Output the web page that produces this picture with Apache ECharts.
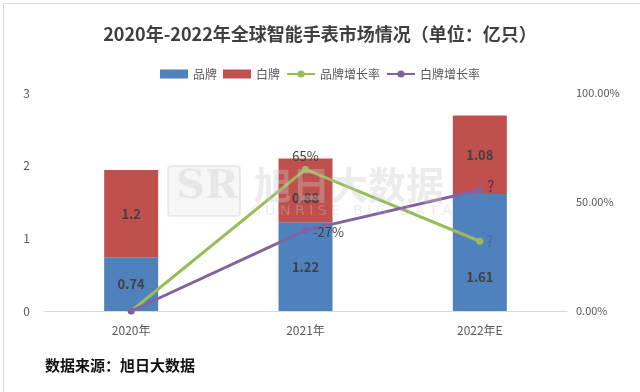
<!DOCTYPE html>
<html><head><meta charset="utf-8">
<script src="https://cdn.jsdelivr.net/npm/echarts@6/dist/echarts.min.js"></script>
<style>html,body{margin:0;padding:0;background:#fff}#c{width:640px;height:392px}</style>
</head><body><div id="c"></div>
<script>
const categories = ['2020年', '2021年', '2022年E'];
const brand = [0.74, 1.22, 1.61];
const whiteLabel = [1.2, 0.88, 1.08];
const brandGrowth = [0, 0.65, 0.32];
const whiteGrowth = [0, 0.37, 0.555];
const brandGrowthLabels = ['', '65%', '?'];
const whiteGrowthLabels = ['', '-27%', '?'];
const leftTicks = [0, 1, 2, 3];
const rightTicks = [0, 0.5, 1];

const FONT = '"Noto Sans CJK SC", "Noto Sans", sans-serif';
const brandLabelOffset = [[0, 0], [0, 0], [0, 25]];
const whiteLabelOffset = [[0, 0], [0, 8], [0, 0]];
const chart = echarts.init(document.getElementById('c'));
chart.setOption({
  animation: false,
  textStyle: { fontFamily: FONT },
  title: {
    text: '2020年-2022年全球智能手表市场情况（单位：亿只）',
    left: 'center', top: 20,
    textStyle: { fontSize: 18, fontWeight: 'bold', color: '#404040', fontFamily: FONT }
  },
  legend: {
    top: 63, left: 'center', itemGap: 6, itemWidth: 28, itemHeight: 9,
    textStyle: { fontSize: 12, color: '#595959', fontFamily: FONT },
    data: [
      { name: '品牌', icon: 'rect' },
      { name: '白牌', icon: 'rect' },
      { name: '品牌增长率' },
      { name: '白牌增长率' }
    ]
  },
  grid: { left: 44, right: 73, top: 93, bottom: 81 },
  xAxis: {
    type: 'category', data: categories,
    axisLine: { lineStyle: { color: '#d9d9d9' } },
    axisTick: { show: false },
    axisLabel: { color: '#595959', fontSize: 12, margin: 13 }
  },
  yAxis: [
    {
      type: 'value', min: leftTicks[0], max: leftTicks[leftTicks.length - 1], interval: 1,
      splitLine: { show: false }, axisLine: { show: false }, axisTick: { show: false },
      axisLabel: { color: '#595959', fontSize: 12, margin: 14 }
    },
    {
      type: 'value', min: rightTicks[0], max: rightTicks[rightTicks.length - 1], interval: 0.5,
      splitLine: { show: false }, axisLine: { show: false }, axisTick: { show: false },
      axisLabel: { color: '#595959', fontSize: 11, margin: 9,
        formatter: v => (v * 100).toFixed(2) + '%' }
    }
  ],
  series: [
    {
      name: '品牌', type: 'bar', stack: 'a', barWidth: 54,
      data: brand.map((v, i) => ({ value: v, label: { offset: brandLabelOffset[i] } })),
      itemStyle: { color: '#4F81BD' },
      label: { show: true, position: 'inside', color: '#404040', fontWeight: 'bold', fontSize: 13 }
    },
    {
      name: '白牌', type: 'bar', stack: 'a', barWidth: 54,
      data: whiteLabel.map((v, i) => ({ value: v, label: { offset: whiteLabelOffset[i] } })),
      itemStyle: { color: '#C0504D' },
      label: { show: true, position: 'inside', color: '#404040', fontWeight: 'bold', fontSize: 13 }
    },
    {
      name: '品牌增长率', type: 'line', yAxisIndex: 1,
      symbol: 'circle', symbolSize: 7,
      lineStyle: { width: 3, color: '#9BBB59' }, itemStyle: { color: '#9BBB59' },
      label: {
        show: true, fontSize: 13,
        formatter: p => brandGrowthLabels[p.dataIndex]
      },
      data: brandGrowth.map((v, i) => ({
        value: v,
        label: i === 1 ? { position: 'top', color: '#404040', distance: 3 }
             : { position: 'right', color: '#4a6aa8', fontSize: 15, distance: 3 }
      }))
    },
    {
      name: '白牌增长率', type: 'line', yAxisIndex: 1,
      symbol: 'circle', symbolSize: 7,
      lineStyle: { width: 3, color: '#8064A2' }, itemStyle: { color: '#8064A2' },
      label: {
        show: true, fontSize: 13,
        formatter: p => whiteGrowthLabels[p.dataIndex]
      },
      data: whiteGrowth.map((v, i) => ({
        value: v,
        label: i === 1 ? { position: 'right', color: '#404040', distance: 4, offset: [0, 2] }
             : { position: 'right', color: '#5a2a5a', fontSize: 15, distance: 4, offset: [0, -4] }
      }))
    }
  ],
  graphic: [
    { type: 'rect', left: 1, top: 1, shape: { width: 637, height: 389 },
      style: { fill: 'none', stroke: '#d9d9d9', lineWidth: 1 }, silent: true },
    { type: 'rect', x: 168, y: 166, shape: { width: 72, height: 50, r: 3 },
      style: { fill: 'rgba(215,215,215,0.2)', stroke: 'rgba(200,200,200,0.35)', lineWidth: 2 }, z: 100, silent: true },
    { type: 'text', x: 176, y: 168, z: 100, silent: true,
      style: { text: 'SR', fill: 'rgba(200,200,200,0.35)', font: 'bold 40px "DejaVu Serif", serif' } },
    { type: 'text', x: 254, y: 166, z: 100, silent: true,
      style: { text: '旭日大数据', fill: 'rgba(200,200,200,0.35)', font: 'bold 38px "Noto Sans CJK SC", sans-serif' } },
    { type: 'text', x: 252, y: 204, z: 100, silent: true,
      style: { text: 'S U N R I S E   B I G   D A T A', fill: 'rgba(200,200,200,0.35)', font: '14px "DejaVu Sans", sans-serif' } },
    { type: 'text', left: 45, top: 358, silent: true,
      style: { text: '数据来源：旭日大数据', fill: '#111', font: 'bold 15px "Noto Sans CJK SC", sans-serif' } }
  ]
});
</script></body></html>
